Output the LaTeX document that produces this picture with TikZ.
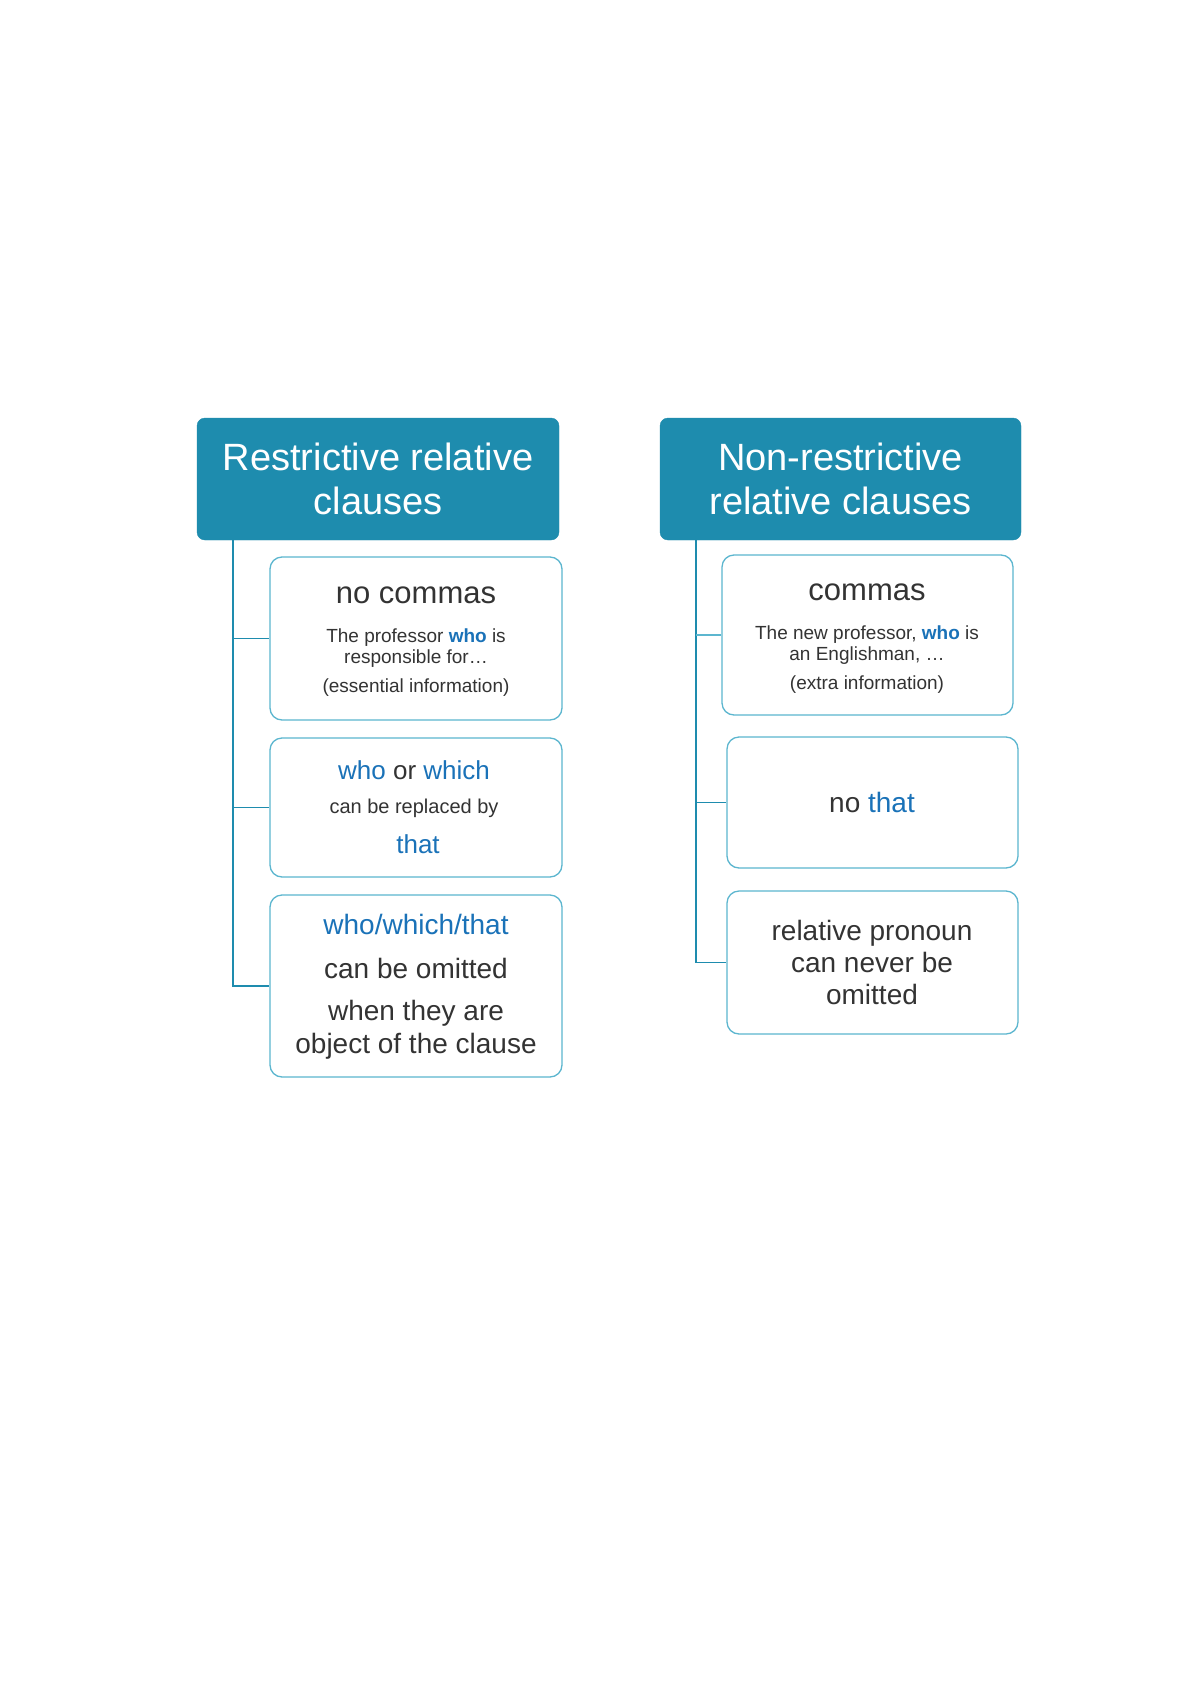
\documentclass[tikz,border=0pt]{standalone}
\usepackage{fontspec}
\setmainfont{Liberation Sans}
\definecolor{hdr}{HTML}{1E8CAE}
\definecolor{bord}{HTML}{5CB6CF}
\definecolor{bl}{HTML}{1A72B8}
\definecolor{dk}{HTML}{333333}
\begin{document}
\begin{tikzpicture}[x=1pt,y=-1pt,
  hbox/.style={draw=hdr,fill=hdr,rounded corners=8pt,text=white,align=center,font=\fontsize{38}{42}\selectfont},
  cbox/.style={draw=bord,line width=1.3pt,rounded corners=12pt,fill=white,text=dk,align=center},
  conn/.style={draw=hdr,line width=1.2pt}]
\useasboundingbox (0,0) rectangle (1200,1696);
\path[fill=white] (0,0) rectangle (1200,1696);
\newcommand{\bx}[6]{\node[#6,minimum width=#3-#1,minimum height=#4-#2,inner sep=0pt] (#5) at ({(#1+#3)/2},{(#2+#4)/2}) {};}
\bx{197}{418}{559}{540}{h1}{hbox}
\bx{660}{418}{1021}{540}{h2}{hbox}
\node[text=white,align=center,font=\fontsize{38}{44}\selectfont] (h1t) at (h1) {Restrictive relative\\clauses};
\node[text=white,align=center,font=\fontsize{38}{44}\selectfont] (h2t) at (h2) {Non-restrictive\\relative clauses};
\bx{270}{557}{562}{720}{a1}{cbox}
\bx{270}{738}{562}{877}{a2}{cbox}
\bx{270}{895}{562}{1077}{a3}{cbox}
\bx{722}{555}{1013}{715}{b1}{cbox}
\bx{727}{737}{1018}{868}{b2}{cbox}
\bx{727}{891}{1018}{1034}{b3}{cbox}
% texts
\node[text=dk,font=\fontsize{31}{34}\selectfont] (a1t) at (416,595) {no commas};
\node[text=dk,align=center,font=\fontsize{19}{21}\selectfont] (a1s) at (416,648) {The professor \textcolor{bl}{\textbf{who}} is\\responsible for…};
\node[text=dk,font=\fontsize{19}{21}\selectfont] (a1e) at (416,688) {(essential information)};
\node[text=bl,font=\fontsize{26}{30}\selectfont] (a2t) at (414,770) {who \textcolor{dk}{or} which};
\node[text=dk,font=\fontsize{20}{24}\selectfont] (a2s) at (414,808) {can be replaced by};
\node[text=bl,font=\fontsize{26}{30}\selectfont] (a2e) at (418,844) {that};
\node[text=bl,font=\fontsize{28}{32}\selectfont] (a3t) at (416,924) {who/which/that};
\node[text=dk,font=\fontsize{28}{32}\selectfont] (a3s) at (416,968) {can be omitted};
\node[text=dk,align=center,font=\fontsize{28}{33}\selectfont] (a3e) at (416,1030) {when they are\\object of the clause};
\node[text=dk,font=\fontsize{31}{34}\selectfont] (b1t) at (867,592) {commas};
\node[text=dk,align=center,font=\fontsize{19}{21}\selectfont] (b1s) at (867,645) {The new professor, \textcolor{bl}{\textbf{who}} is\\an Englishman, …};
\node[text=dk,font=\fontsize{19}{21}\selectfont] (b1e) at (867,685) {(extra information)};
\node[text=dk,font=\fontsize{28}{32}\selectfont] (b2t) at (872,802) {no \textcolor{bl}{that}};
\node[text=dk,align=center,font=\fontsize{28}{32}\selectfont] (b3t) at (872,962) {relative pronoun\\can never be\\omitted};
% connectors
\coordinate (ta) at (233,540);
\coordinate (tb) at (696,540);
\draw[conn] (ta) |- (a3.west);
\draw[conn] (ta |- a1.west) -- (a1.west);
\draw[conn] (ta |- a2.west) -- (a2.west);
\draw[conn] (tb) |- (b3.west);
\draw[conn,draw=bord] (tb |- b1.west) -- (b1.west);
\draw[conn] (tb |- b2.west) -- (b2.west);
\end{tikzpicture}
\end{document}
